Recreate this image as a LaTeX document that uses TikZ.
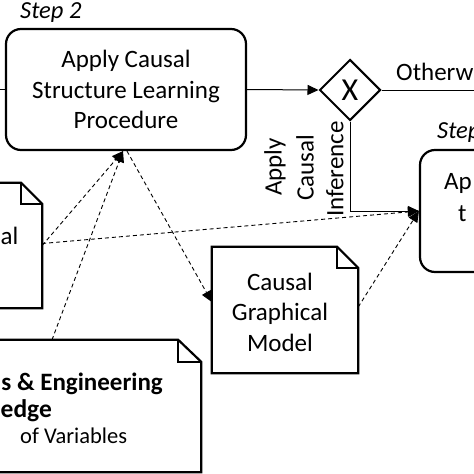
\documentclass[tikz,border=0pt]{standalone}
\usepackage{fontspec}
\setmainfont{Carlito}
\usetikzlibrary{arrows.meta,shapes.geometric,calc}
\begin{document}
\begin{tikzpicture}[x=1pt,y=-1pt,
  txt/.style={font=\fontsize{25}{30.5}\selectfont, align=center, inner sep=0pt},
  stepbox/.style={draw, line width=2.2pt, rounded corners=15pt, txt},
  docbox/.style={inner sep=0pt, txt},
  docline/.style={line width=2.2pt, line join=miter},
  flow/.style={line width=1pt, -{Triangle[length=11pt,width=10pt]}},
  dflow/.style={line width=0.9pt, dash pattern=on 4pt off 3pt, -{Triangle[length=11pt,width=10pt]}},
  steplabel/.style={font=\fontsize{24.5}{28}\selectfont\itshape, inner sep=0pt, anchor=base west}
]
\useasboundingbox (0,0) rectangle (474,474);
\clip (0,0) rectangle (474,474);

% Step 2
\node[steplabel] (l2) at (20,18.5) {Step 2};
\node[stepbox, minimum width=240pt, minimum height=121pt] (s2) at (126,89.5) {Apply Causal\\Structure Learning\\Procedure};
\coordinate (in2) at (-20,89.5);
\draw[line width=1pt] (in2) -- (s2.west);

% decision
\node[draw, diamond, line width=2pt, minimum width=61pt, minimum height=61pt, inner sep=0pt, font=\fontsize{32}{32}\selectfont] (d) at (350,90) {X};
\draw[flow] (s2.east) -- (d.west);
\coordinate (out) at (490,90);
\draw[line width=1pt] (d.east) -- (out);
\node[txt, anchor=base west] (ow) at (396,80) {Otherw};

% Step 3
\node[steplabel] (l3) at (437,138) {Step};
\node[draw, line width=2.2pt, rounded corners=15pt, minimum width=180pt, minimum height=122pt] (s3) at (510,211) {};
\node[txt, anchor=base west] (s3a) at (444,189) {Ap};
\node[txt, anchor=base west] (s3b) at (458,221) {t};
\draw[flow] (d.south) |- (s3.west);

% rotated labels
\node[txt, rotate=90] (r1) at (275,167) {Apply};
\node[txt, rotate=90] (r2) at (305,168) {Causal};
\node[txt, rotate=90] (r3) at (335,169) {Inference};

% left document
\node[docbox, minimum width=142pt, minimum height=125pt] (ld) at (-29,245.5) {};
\draw[docline] (ld.north west) -- ($(ld.north east)+(-21,0)$) -- ($(ld.north east)+(0,21)$) -- (ld.south east) -- (ld.south west) -- cycle;
\draw[docline] ($(ld.north east)+(-21,0)$) -- ($(ld.north east)+(-21,21)$) -- ($(ld.north east)+(0,21)$);
\node[txt, anchor=base west] (ldt) at (0.5,244) {al};

% causal graphical model document
\node[docbox, minimum width=146pt, minimum height=126pt] (cgm) at (285,310) {};
\draw[docline] (cgm.north west) -- ($(cgm.north east)+(-21,0)$) -- ($(cgm.north east)+(0,21)$) -- (cgm.south east) -- (cgm.south west) -- cycle;
\draw[docline] ($(cgm.north east)+(-21,0)$) -- ($(cgm.north east)+(-21,21)$) -- ($(cgm.north east)+(0,21)$);
\node[txt] (cgmt) at (280,312) {Causal\\Graphical\\Model};

% bottom document
\node[docbox, minimum width=401pt, minimum height=132pt] (bd) at (0.5,406) {};
\draw[docline] (bd.north west) -- ($(bd.north east)+(-23,0)$) -- ($(bd.north east)+(0,22)$) -- (bd.south east) -- (bd.south west) -- cycle;
\draw[docline] ($(bd.north east)+(-23,0)$) -- ($(bd.north east)+(-23,22)$) -- ($(bd.north east)+(0,22)$);
\node[txt, font=\fontsize{25}{30}\selectfont\bfseries, anchor=base east] (bd1) at (163,390) {s \& Engineering};
\node[txt, font=\fontsize{25.5}{30}\selectfont\bfseries, anchor=base west] (bd2) at (0.5,417) {edge};
\node[txt, font=\fontsize{22.5}{30}\selectfont, anchor=base west] (bd3) at (20,443) {of Variables};

% dashed connectors
\draw[dflow] (ld.east) -- ([xshift=-3pt]s2.south);
\draw[dflow] ($(bd.north)+(51.5,0)$) -- ([xshift=-3pt]s2.south);
\draw[dflow] ([xshift=1pt]s2.south) -- ([yshift=8pt]cgm.west);
\draw[dflow] ([yshift=2pt]ld.east) -- (s3.west);
\draw[dflow] ([yshift=3pt]cgm.east) -- (s3.west);
\end{tikzpicture}
\end{document}
